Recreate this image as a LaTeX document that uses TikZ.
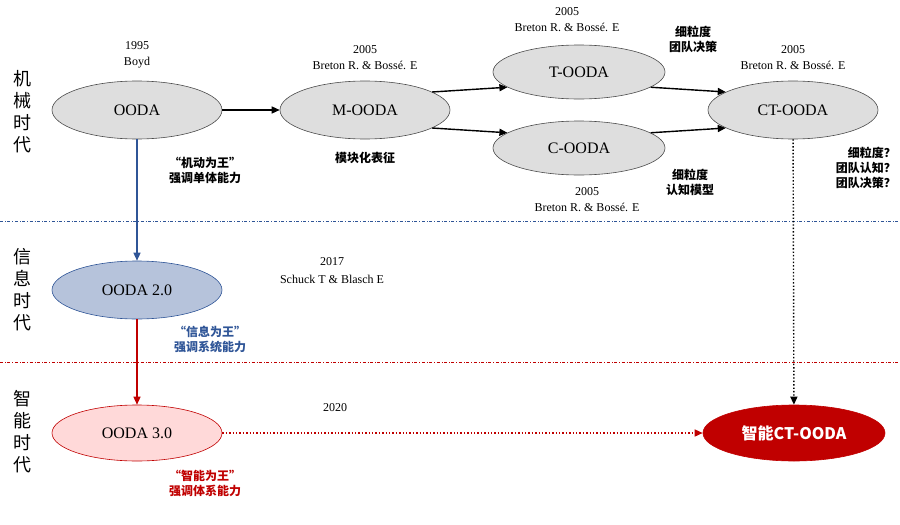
\documentclass[tikz,border=0pt]{standalone}
\usepackage{fontspec}
\setmainfont{Liberation Serif}
\newfontfamily\cjk{Noto Sans CJK SC}
\usetikzlibrary{shapes.geometric,arrows.meta}
\definecolor{myblue}{HTML}{2F5597}
\definecolor{myred}{HTML}{C00000}
\begin{document}
\begin{tikzpicture}[x=1pt,y=-1pt,
 ell/.style={ellipse,draw=black!70,fill=black!13,line width=0.6pt,minimum width=170pt,minimum height=58pt,inner sep=0pt,font=\fontsize{16}{16}\selectfont},
 sm/.style={font=\fontsize{12}{12}\selectfont,align=center,inner sep=0pt},
 cb/.style={font=\cjk\bfseries\fontsize{12}{15}\selectfont,align=center,inner sep=0pt},
 era/.style={font=\cjk\fontsize{18}{22}\selectfont,align=center,inner sep=0pt},
 arr/.style={-{Triangle[length=8pt,width=7pt]},line width=1.4pt}]
\useasboundingbox (0,0) rectangle (900,525);
\node[ell] (ooda) at (137,110) {OODA};
\node[ell] (mooda) at (365,110) {M-OODA};
\node[ell,minimum width=172pt,minimum height=54pt] (tooda) at (579,72) {T-OODA};
\node[ell,minimum width=172pt,minimum height=54pt] (cooda) at (579,148) {C-OODA};
\node[ell] (ctooda) at (793,110) {CT-OODA};
\node[ell,fill=myblue!35,draw=myblue] (o2) at (137,290) {OODA 2.0};
\node[ell,fill=red!15,draw=myred,minimum height=56pt] (o3) at (137,433) {OODA 3.0};
\node[ell,fill=myred,draw=myred,text=white,minimum width=182pt,minimum height=56pt,font=\cjk\bfseries\fontsize{16}{16}\selectfont] (ict) at (794,433) {智能CT-OODA};
\draw[myblue,dash dot,line width=0.8pt] (0,221) -- (900,221);
\draw[myred,dash dot,line width=0.8pt] (0,362) -- (900,362);
\node[era] (e1) at (22,112) {机\\械\\时\\代};
\node[era] (e2) at (22,290) {信\\息\\时\\代};
\node[era] (e3) at (22,432) {智\\能\\时\\代};
\draw[arr] (ooda) -- (mooda);
\draw[arr] (mooda.15) -- (tooda.192);
\draw[arr] (mooda.-15) -- (cooda.168);
\draw[arr] (tooda.-12) -- (ctooda.165);
\draw[arr] (cooda.12) -- (ctooda.195);
\draw[arr,myblue] (ooda) -- (o2);
\draw[arr,myred] (o2) -- (o3);
\draw[-{Triangle[length=8pt,width=7pt]},line width=1.4pt,myred,dotted] (o3) -- (ict);
\draw[-{Triangle[length=8pt,width=7pt]},line width=1.4pt,dotted] (ctooda) -- (ict);
\node[sm] (t1) at (137,55) {1995\\[4pt]Boyd};
\node[sm] (t2) at (365,58) {2005\\[4pt]Breton R. \& Bossé. E};
\node[sm] (t3) at (567,20) {2005\\[4pt]Breton R. \& Bossé. E};
\node[sm] (t4) at (793,58) {2005\\[4pt]Breton R. \& Bossé. E};
\node[sm] (t5) at (587,200) {2005\\[4pt]Breton R. \& Bossé. E};
\node[sm] (t6) at (332,271) {2017\\[6pt]Schuck T \& Blasch E};
\node[sm] (t7) at (335,408) {2020};
\node[cb] (c1) at (365,158) {模块化表征};
\node[cb] (c2) at (693,39) {细粒度\\团队决策};
\node[cb] (c3) at (690,182) {细粒度\\认知模型};
\node[cb,align=right,anchor=east] (c4) at (896,168) {细粒度？\\团队认知？\\团队决策？};
\node[cb] (c5) at (205,170) {“机动为王”\\强调单体能力};
\node[cb,text=myblue] (c6) at (210,339) {“信息为王”\\强调系统能力};
\node[cb,text=myred] (c7) at (205,483) {“智能为王”\\强调体系能力};
\end{tikzpicture}
\end{document}
